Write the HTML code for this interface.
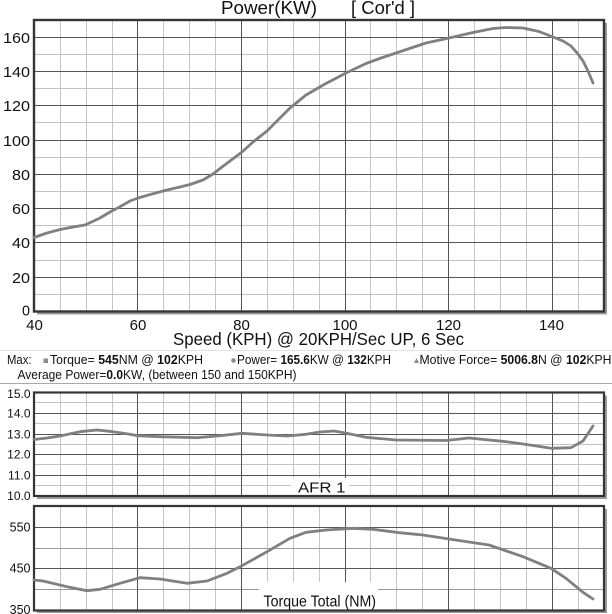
<!DOCTYPE html>
<html>
<head>
<meta charset="utf-8">
<style>
html,body{margin:0;padding:0;background:#fff;}
svg{display:block;}
text{font-family:"Liberation Sans",Arial,sans-serif;fill:#111;}
</style>
</head>
<body>
<svg width="612" height="614" viewBox="0 0 612 614" xmlns="http://www.w3.org/2000/svg">
<rect x="0" y="0" width="612" height="614" fill="#fff"/>

<!-- Title -->
<text x="221" y="14" font-size="18.5" textLength="96" lengthAdjust="spacingAndGlyphs">Power(KW)</text>
<text x="351" y="14" font-size="18.5" textLength="64" lengthAdjust="spacingAndGlyphs">[ Cor'd ]</text>

<!-- ===== MAIN CHART ===== -->
<rect x="37" y="23" width="570" height="291.5" fill="#9c9c9c"/>
<rect x="34" y="20" width="570" height="291.5" fill="#fff"/>
<path d="M60.5 20V311.5M86.5 20V311.5M112.5 20V311.5M163.5 20V311.5M189.5 20V311.5M215.5 20V311.5M267.5 20V311.5M293.5 20V311.5M319.5 20V311.5M370.5 20V311.5M396.5 20V311.5M422.5 20V311.5M474.5 20V311.5M500.5 20V311.5M526.5 20V311.5M578.5 20V311.5" stroke="#c6c6c6" stroke-width="1" fill="none"/>
<path d="M34 294.5H604M34 260.5H604M34 225.5H604M34 191.5H604M34 157.5H604M34 122.5H604M34 88.5H604M34 54.5H604" stroke="#c2c2c2" stroke-width="1" fill="none"/>
<path d="M137.5 20V311.5M241.5 20V311.5M345.5 20V311.5M448.5 20V311.5M552.5 20V311.5" stroke="#555" stroke-width="1" fill="none"/>
<path d="M34 277.5H604M34 242.5H604M34 208.5H604M34 174.5H604M34 140.5H604M34 105.5H604M34 71.5H604M34 37.5H604" stroke="#555" stroke-width="1" fill="none"/>
<rect x="34" y="20" width="570" height="291.5" fill="none" stroke="#353535" stroke-width="2.4"/>

<!-- power curve -->
<polyline fill="none" stroke="#808080" stroke-width="2.8" stroke-linejoin="round" stroke-linecap="round"
points="34,237.5 47,233 60,229.5 73,227 85,225 100,218 110,212 120,206.7 130,201 138,198 152,194 167,190 180,187 190,184.5 203,180 213,174 222,167 230,161 242,152 253,142 267,131 280,118 290,108 306,95 325,84 346,73 366,63.5 381,58 396,53 411,48 426,43 449,38 473,32.5 493,28.5 506,27.5 523,28 539,31.5 553,37 563,41 571,46 578,54 583,61 588,71 593,83"/>

<!-- main Y labels -->
<g font-size="15" text-anchor="end">
<text x="30" y="43" textLength="27" lengthAdjust="spacingAndGlyphs">160</text>
<text x="30" y="77" textLength="27" lengthAdjust="spacingAndGlyphs">140</text>
<text x="30" y="111" textLength="27" lengthAdjust="spacingAndGlyphs">120</text>
<text x="30" y="146" textLength="27" lengthAdjust="spacingAndGlyphs">100</text>
<text x="30" y="180" textLength="18" lengthAdjust="spacingAndGlyphs">80</text>
<text x="30" y="214" textLength="18" lengthAdjust="spacingAndGlyphs">60</text>
<text x="30" y="248" textLength="18" lengthAdjust="spacingAndGlyphs">40</text>
<text x="30" y="283" textLength="18" lengthAdjust="spacingAndGlyphs">20</text>
<text x="30" y="315.5" textLength="8" lengthAdjust="spacingAndGlyphs">0</text>
</g>
<!-- main X labels -->
<g font-size="15" text-anchor="middle">
<text x="34.5" y="330">40</text>
<text x="138" y="330">60</text>
<text x="241.5" y="330">80</text>
<text x="345" y="330">100</text>
<text x="448.5" y="330">120</text>
<text x="551.5" y="330">140</text>
</g>
<text x="173" y="345" font-size="17.5" textLength="291" lengthAdjust="spacingAndGlyphs">Speed (KPH) @ 20KPH/Sec UP, 6 Sec</text>

<!-- stats -->
<line x1="0" y1="350.5" x2="612" y2="350.5" stroke="#e2e2e2" stroke-width="1"/>
<g font-size="12.5">
<text x="7" y="364" fill="#222" textLength="24.5" lengthAdjust="spacingAndGlyphs">Max:</text>
<rect x="43.5" y="358.5" width="4.5" height="4.5" fill="#8a8a8a"/>
<text x="50" y="364" fill="#222" textLength="153" lengthAdjust="spacingAndGlyphs">Torque= <tspan font-weight="bold">545</tspan>NM @ <tspan font-weight="bold">102</tspan>KPH</text>
<circle cx="233.5" cy="360.5" r="2.3" fill="#8a8a8a"/>
<text x="237" y="364" fill="#222" textLength="154" lengthAdjust="spacingAndGlyphs">Power= <tspan font-weight="bold">165.6</tspan>KW @ <tspan font-weight="bold">132</tspan>KPH</text>
<polygon points="414,363 419,363 416.5,358" fill="#8a8a8a"/>
<text x="419.5" y="364" fill="#222" textLength="192" lengthAdjust="spacingAndGlyphs">Motive Force= <tspan font-weight="bold">5006.8</tspan>N @ <tspan font-weight="bold">102</tspan>KPH</text>
<text x="17.5" y="379" fill="#222" textLength="279" lengthAdjust="spacingAndGlyphs">Average Power=<tspan font-weight="bold">0.0</tspan>KW, (between 150 and 150KPH)</text>
</g>
<line x1="0" y1="383.5" x2="612" y2="383.5" stroke="#a8a8a8" stroke-width="1"/>

<!-- ===== AFR PANEL ===== -->
<rect x="37" y="395.5" width="570" height="103.5" fill="#9c9c9c"/>
<rect x="34" y="392.5" width="570" height="103.5" fill="#fff"/>
<path d="M60.5 392.5V496M86.5 392.5V496M112.5 392.5V496M163.5 392.5V496M189.5 392.5V496M215.5 392.5V496M267.5 392.5V496M293.5 392.5V496M319.5 392.5V496M370.5 392.5V496M396.5 392.5V496M422.5 392.5V496M474.5 392.5V496M500.5 392.5V496M526.5 392.5V496M578.5 392.5V496" stroke="#c6c6c6" stroke-width="1" fill="none"/>
<path d="M34 402.5H604M34 423.5H604M34 444.5H604M34 464.5H604M34 485.5H604" stroke="#c2c2c2" stroke-width="1" fill="none"/>
<path d="M137.5 392.5V496M241.5 392.5V496M345.5 392.5V496M448.5 392.5V496M552.5 392.5V496" stroke="#555" stroke-width="1" fill="none"/>
<path d="M34 413.5H604M34 434.5H604M34 454.5H604M34 475.5H604" stroke="#555" stroke-width="1" fill="none"/>
<rect x="291" y="478" width="58" height="17" fill="#fff"/>
<rect x="34" y="392.5" width="570" height="103.5" fill="none" stroke="#353535" stroke-width="2.2"/>
<polyline fill="none" stroke="#808080" stroke-width="2.8" stroke-linejoin="round" stroke-linecap="round"
points="34,439.5 47,438 60,436 80,431.7 97,430 113,431.7 125,433.5 138,435.7 160,436.7 197,437.7 217,436 242,433.3 267,435 287,436 306,434.3 320,432 334,431 344,432.7 366,437.3 396,440 446,440.5 469,438 506,441.7 530,445 551,448.3 571,447.7 583,441 593,426"/>
<text x="298" y="492.5" font-size="15" textLength="47.5" lengthAdjust="spacingAndGlyphs">AFR 1</text>
<g font-size="12" text-anchor="end">
<text x="30.5" y="398">15.0</text>
<text x="30.5" y="417.5">14.0</text>
<text x="30.5" y="438.5">13.0</text>
<text x="30.5" y="458.5">12.0</text>
<text x="30.5" y="479.5">11.0</text>
<text x="30.5" y="500">10.0</text>
</g>

<!-- ===== TORQUE PANEL ===== -->
<rect x="37" y="509" width="570" height="104" fill="#9c9c9c"/>
<rect x="34" y="506" width="570" height="104.5" fill="#fff"/>
<path d="M60.5 506V610.5M86.5 506V610.5M112.5 506V610.5M163.5 506V610.5M189.5 506V610.5M215.5 506V610.5M267.5 506V610.5M293.5 506V610.5M319.5 506V610.5M370.5 506V610.5M396.5 506V610.5M422.5 506V610.5M474.5 506V610.5M500.5 506V610.5M526.5 506V610.5M578.5 506V610.5" stroke="#c6c6c6" stroke-width="1" fill="none"/>
<path d="M34 548.5H604M34 589.5H604" stroke="#9a9a9a" stroke-width="1" fill="none"/>
<path d="M137.5 506V610.5M241.5 506V610.5M345.5 506V610.5M448.5 506V610.5M552.5 506V610.5" stroke="#555" stroke-width="1" fill="none"/>
<path d="M34 527.5H604M34 568.5H604" stroke="#555" stroke-width="1" fill="none"/>
<rect x="259" y="582" width="119" height="27.5" fill="#fff"/>
<rect x="34" y="506" width="570" height="104.5" fill="none" stroke="#353535" stroke-width="2.2"/>
<polyline fill="none" stroke="#808080" stroke-width="2.8" stroke-linejoin="round" stroke-linecap="round"
points="34,580 43,581 67,586.7 87,590.7 100,589.3 120,583.3 140,577.7 160,579 187,583.3 207,581 227,573.3 242,565.7 267,551.7 290,538.3 306,532.3 326,530 353,528.3 373,529.3 399,532.7 423,535 449,539 489,545 523,556.7 551,568.3 566,578.3 583,592.3 593,599"/>
<text x="263.5" y="606.5" font-size="15.5" textLength="112.5" lengthAdjust="spacingAndGlyphs">Torque Total (NM)</text>
<g font-size="12.5" text-anchor="end">
<text x="30.5" y="531.5">550</text>
<text x="30.5" y="572.5">450</text>
<text x="30.5" y="614">350</text>
</g>
</svg>
</body>
</html>
